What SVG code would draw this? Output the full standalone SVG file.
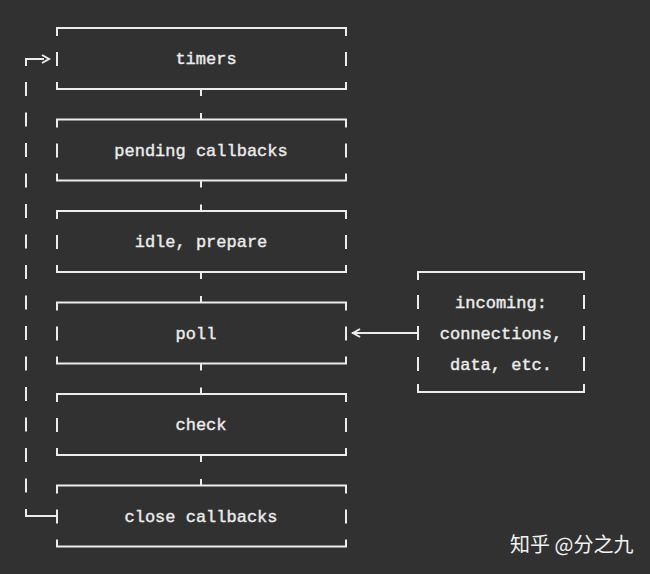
<svg xmlns="http://www.w3.org/2000/svg" width="650" height="574" viewBox="0 0 650 574">
<style>
.l{stroke:#ececec;stroke-width:2;fill:none}
.t{font-family:"Liberation Mono",monospace;font-size:17px;fill:#ececec;stroke:#ececec;stroke-width:0.4;text-anchor:middle}
</style>
<defs>
<g id="box">
<path class="l" d="M57,36V28H346V36M57,82V89H346V82M57,52V66M346,52V66"/>
</g>
</defs>
<rect width="650" height="574" fill="#313131"/>
<g id="timers"><use href="#box"/><text class="t" x="206" y="64">timers</text></g>
<g id="pending"><use href="#box" y="91.5"/><text class="t" x="201" y="156">pending callbacks</text></g>
<g id="idle"><use href="#box" y="183"/><text class="t" x="201" y="247">idle, prepare</text></g>
<g id="poll"><use href="#box" y="274.5"/><text class="t" x="196" y="339">poll</text></g>
<g id="check"><use href="#box" y="366"/><text class="t" x="201" y="430">check</text></g>
<g id="close"><use href="#box" y="457.5"/><text class="t" x="201" y="522">close callbacks</text></g>
<g id="incoming">
<path class="l" d="M418,280V272H584V280M418,384V392H584V384M418,295V309M584,295V309M418,326V340M584,326V340M418,357V371M584,357V371"/>
<text class="t" x="501" y="308">incoming:</text>
<text class="t" x="501" y="339">connections,</text>
<text class="t" x="501" y="370">data, etc.</text>
</g>
<g id="connectors">
<path class="l" d="M201,89V96M201,113V120M201,180.5V187.5M201,204.5V211.5M201,272V279M201,296V303M201,363.5V370.5M201,387.5V394.5M201,455V462M201,479V486"/>
<path class="l" d="M26,66V59H44M42,55L49,59L42,63"/>
<path class="l" d="M26,82V509" stroke-dasharray="14 16.5"/>
<path class="l" d="M26,509V516H57"/>
<path class="l" d="M418,333H352M360,329L353,333L360,337"/>
</g>
<text x="510" y="552" font-family="Noto Sans CJK SC,sans-serif" font-size="20" fill="#f2f2f2">知乎 @分之九</text>
</svg>
